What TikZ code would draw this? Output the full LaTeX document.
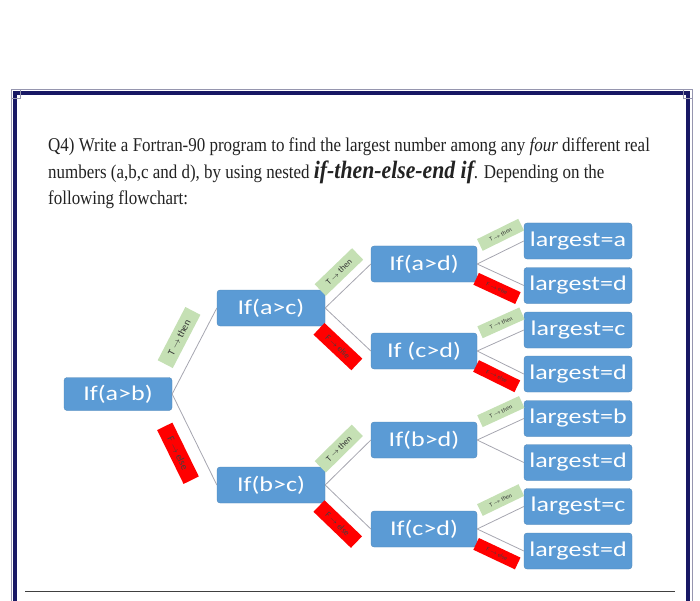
\documentclass[tikz,border=0pt]{standalone}
\usepackage{fontspec}
\setmainfont{Liberation Serif}
\newfontfamily\boxfont[FakeStretch=1.24]{Carlito}
\newfontfamily\tagfont{Carlito}
\newfontfamily\headfont[FakeStretch=0.87]{Liberation Serif}
\usetikzlibrary{positioning}
\definecolor{boxblue}{RGB}{91,155,213}
\definecolor{taggreen}{RGB}{197,224,180}
\definecolor{linegrey}{RGB}{166,166,176}
\definecolor{navy}{RGB}{24,24,100}
\definecolor{framegrey}{RGB}{150,150,175}
\definecolor{ink}{RGB}{34,34,34}
\tikzset{
	cond/.style={fill=boxblue, draw=boxblue!85!black, line width=0.3pt, rounded corners=3pt,
		minimum width=106pt, minimum height=36pt, inner sep=0pt, text=white,
		font=\boxfont\fontsize{21}{24}\selectfont},
	res/.style={cond, minimum width=108pt},
	link/.style={draw=linegrey, line width=0.8pt},
	thentag/.style={fill=taggreen, sloped, inner sep=0pt, text=black!80},
	elsetag/.style={fill=red, sloped, inner sep=0pt, text=black!75},
	tagA/.style={minimum width=60pt, minimum height=17pt, font=\tagfont\fontsize{10}{10}\selectfont},
	tagB/.style={minimum width=52pt, minimum height=16pt, font=\tagfont\fontsize{8.5}{8.5}\selectfont},
	tagC/.style={minimum width=46pt, minimum height=13pt, font=\tagfont\fontsize{6}{6}\selectfont},
	head/.style={anchor=base west, inner sep=0pt, text=ink, font=\headfont\fontsize{19.5}{27}\selectfont}
}
\begin{document}
\begin{tikzpicture}[x=1pt, y=-1pt]
	\useasboundingbox (0,0) rectangle (700,601);
	% page border
	\draw[navy, line width=4pt] (15,620) -- (15,93.5) -- (688,93.5) -- (688,620);
	\draw[framegrey, line width=0.5pt] (11,620) -- (11,89.5) -- (692,89.5) -- (692,620);
	\draw[framegrey, line width=0.5pt] (11,89.5) rectangle (20,98) (683,89.5) rectangle (692,98);
	\draw[black!75, line width=1.2pt] (25,591.5) -- (675,591.5);
	% question
	\node[head] (q1) at (48,152) {Q4) Write a Fortran-90 program to find the largest number among any \textit{four} different real};
	\node[head] (q2) at (48,179) {numbers (a,b,c and d), by using nested {\fontsize{25}{27}\selectfont\bfseries\itshape if-then-else-end if}. Depending on the};
	\node[head] (q3) at (48,205) {following flowchart:};
	% flowchart
	\node[cond, minimum width=108pt, minimum height=33pt] (ab) at (118,394) {If(a>b)};
	\node[cond, minimum width=108pt] (ac) at (271,308) {If(a>c)};
	\node[cond, minimum width=108pt] (bc) at (271,485) {If(b>c)};
	\node[cond] (ad) at (424,264) {If(a>d)};
	\node[cond] (cd) at (424,351) {If (c>d)};
	\node[cond] (bd) at (424,440) {If(b>d)};
	\node[cond] (cdb) at (424,529) {If(c>d)};
	\foreach \n/\y/\t in {r1/241/a, r2/285.5/d, r3/330/c, r4/374/d, r5/418.5/b, r6/462.5/d, r7/506.5/c, r8/551/d}
		\node[res] (\n) at (578,\y) {largest=\t};
	\draw[link] (ab.east) -- (ac.west) node[thentag, tagA, pos=.55, above=11pt] (tab) {T $\to$ then};
	\draw[link] (ab.east) -- (bc.west) node[elsetag, tagA, pos=.55, below=12pt] (fab) {F $\to$ else};
	\foreach \p/\a/\b in {ac/ad/cd, bc/bd/cdb} {
		\draw[link] (\p.east) -- (\a.west) node[thentag, tagB, pos=.55, above=8pt] (t\p) {T $\to$ then};
		\draw[link] (\p.east) -- (\b.west) node[elsetag, tagB, pos=.57, below=11pt] (f\p) {F $\to$ else};
	}
	\foreach \p/\a in {ad/r1, cd/r3, bd/r5, cdb/r7}
		\draw[link] (\p.east) -- (\a.west) node[thentag, tagC, pos=.65, above=9pt] (t\p) {T $\to$ then};
	\foreach \p/\b in {ad/r2, cd/r4, cdb/r8}
		\draw[link] (\p.east) -- (\b.west) node[elsetag, tagC, pos=.55, below=7pt] (f\p) {F $\to$ else};
	\draw[link] (bd.east) -- (r6.west);
\end{tikzpicture}
\end{document}
